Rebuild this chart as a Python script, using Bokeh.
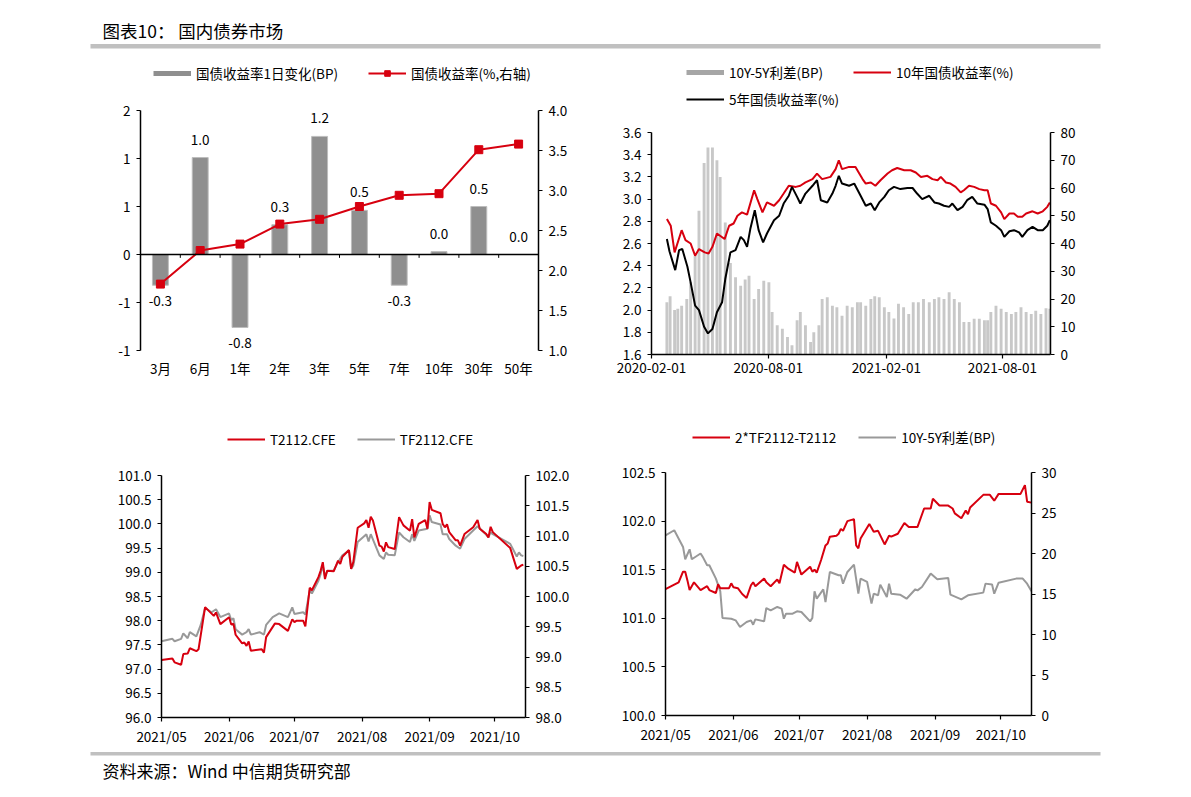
import pandas as pd
from bokeh.plotting import figure
from bokeh.models import (Range1d, LinearAxis, FactorRange, FixedTicker, Legend, LegendItem,
                          ColumnDataSource, LabelSet, Span, DatetimeTickFormatter,
                          PrintfTickFormatter, BoxAnnotation)
from bokeh.layouts import column, row
from bokeh.embed import file_html
from bokeh.resources import INLINE
from bokeh.core.properties import value

FONT = "Noto Sans CJK SC"
RED = "#D7000F"
GRAY_LINE = "#999999"
BAR1 = "#8F8F8F"
BAR2 = "#C8C8C8"
BAR2_KEY = "#A6A6A6"
NAN = float("nan")

# ---------------- Chart 1: yield curve ----------------
tenors = ["3月", "6月", "1年", "2年", "3年", "5年", "7年", "10年", "30年", "50年"]
yield_change_bp = [-0.32, 1.01, -0.76, 0.31, 1.23, 0.46, -0.32, 0.03, 0.50, 0.0]
yield_level = [1.83, 2.25, 2.33, 2.58, 2.64, 2.80, 2.94, 2.96, 3.51, 3.58]

# ---------------- Chart 2: 10Y / 5Y yields and spread ----------------
y10_dates = ["2020-02-25", "2020-03-02", "2020-03-08", "2020-03-19", "2020-03-25", "2020-04-02",
             "2020-04-09", "2020-04-15", "2020-04-24", "2020-04-30", "2020-05-06", "2020-05-13",
             "2020-05-25", "2020-06-01", "2020-06-08", "2020-06-14", "2020-06-21", "2020-06-29",
             "2020-07-10", "2020-07-15", "2020-07-23", "2020-07-30", "2020-08-10", "2020-08-18",
             "2020-08-25", "2020-09-02", "2020-09-13", "2020-09-20", "2020-09-28", "2020-10-09",
             "2020-10-16", "2020-10-24", "2020-11-06", "2020-11-14", "2020-11-19", "2020-11-24",
             "2020-12-05", "2020-12-15", "2020-12-20", "2020-12-26", "2020-12-31", "2021-01-08",
             "2021-01-15", "2021-01-23", "2021-02-03", "2021-02-10", "2021-02-18", "2021-03-01",
             "2021-03-11", "2021-03-19", "2021-03-27", "2021-04-06", "2021-04-14", "2021-04-22",
             "2021-04-27", "2021-05-05", "2021-05-12", "2021-05-20", "2021-05-28", "2021-06-02",
             "2021-06-10", "2021-06-18", "2021-06-26", "2021-07-04", "2021-07-09", "2021-07-14",
             "2021-07-22", "2021-07-30", "2021-08-04", "2021-08-12", "2021-08-19", "2021-08-25",
             "2021-09-01", "2021-09-07", "2021-09-17", "2021-09-25", "2021-10-03", "2021-10-10",
             "2021-10-14"]
y10_rate = [2.82, 2.76, 2.52, 2.72, 2.63, 2.60, 2.49, 2.55, 2.52, 2.51, 2.57, 2.69,
            2.64, 2.76, 2.78, 2.85, 2.88, 2.86, 3.08, 3.00, 2.88, 2.97, 2.94, 2.99,
            3.05, 3.12, 3.11, 3.12, 3.15, 3.18, 3.23, 3.18, 3.20, 3.27, 3.35, 3.27,
            3.29, 3.29, 3.24, 3.18, 3.14, 3.15, 3.12, 3.17, 3.23, 3.26, 3.28, 3.26,
            3.26, 3.24, 3.20, 3.21, 3.18, 3.17, 3.20, 3.15, 3.14, 3.11, 3.06, 3.08,
            3.12, 3.11, 3.09, 3.08, 3.08, 2.96, 2.94, 2.88, 2.82, 2.87, 2.87, 2.84,
            2.84, 2.87, 2.89, 2.87, 2.89, 2.93, 2.97]

y5_dates = ["2020-02-25", "2020-02-29", "2020-03-09", "2020-03-15", "2020-03-20", "2020-03-28",
            "2020-04-02", "2020-04-09", "2020-04-15", "2020-04-23", "2020-04-29", "2020-05-06",
            "2020-05-13", "2020-05-21", "2020-05-26", "2020-06-03", "2020-06-11", "2020-06-19",
            "2020-06-24", "2020-06-29", "2020-07-04", "2020-07-11", "2020-07-17", "2020-07-24",
            "2020-07-30", "2020-08-10", "2020-08-18", "2020-08-25", "2020-09-02", "2020-09-07",
            "2020-09-15", "2020-09-20", "2020-09-28", "2020-10-09", "2020-10-16", "2020-10-22",
            "2020-11-01", "2020-11-09", "2020-11-14", "2020-11-19", "2020-11-24", "2020-12-05",
            "2020-12-13", "2020-12-23", "2020-12-31", "2021-01-08", "2021-01-14", "2021-01-21",
            "2021-01-29", "2021-02-05", "2021-02-13", "2021-02-23", "2021-03-06", "2021-03-14",
            "2021-03-21", "2021-03-29", "2021-04-09", "2021-04-17", "2021-04-24", "2021-05-02",
            "2021-05-10", "2021-05-15", "2021-05-23", "2021-05-31", "2021-06-07", "2021-06-15",
            "2021-06-23", "2021-07-04", "2021-07-09", "2021-07-14", "2021-07-22", "2021-07-30",
            "2021-08-04", "2021-08-12", "2021-08-19", "2021-08-27", "2021-09-01", "2021-09-09",
            "2021-09-17", "2021-09-25", "2021-10-03", "2021-10-10", "2021-10-14"]
y5_rate = [2.64, 2.53, 2.36, 2.54, 2.55, 2.39, 2.25, 2.04, 2.00, 1.85, 1.79, 1.83,
           1.98, 2.07, 2.28, 2.52, 2.54, 2.66, 2.63, 2.57, 2.73, 2.90, 2.72, 2.61,
           2.69, 2.81, 2.85, 2.96, 3.03, 3.11, 3.02, 2.96, 3.05, 3.12, 3.17, 2.99,
           2.97, 3.05, 3.12, 3.21, 3.14, 3.12, 3.14, 3.03, 2.94, 2.96, 2.90, 2.97,
           3.02, 3.08, 3.11, 3.09, 3.10, 3.10, 3.05, 3.00, 3.03, 2.97, 2.96, 2.94,
           2.93, 2.96, 2.90, 2.93, 2.99, 3.02, 2.96, 2.95, 2.91, 2.79, 2.76, 2.72,
           2.66, 2.71, 2.72, 2.70, 2.66, 2.72, 2.75, 2.72, 2.72, 2.76, 2.81]

spread_dates = ["2020-02-25", "2020-03-01", "2020-03-08", "2020-03-13", "2020-03-19", "2020-03-27",
                "2020-04-02", "2020-04-09", "2020-04-15", "2020-04-23", "2020-04-29", "2020-05-06",
                "2020-05-13", "2020-05-18", "2020-05-26", "2020-06-03", "2020-06-11", "2020-06-19",
                "2020-06-26", "2020-07-02", "2020-07-10", "2020-07-17", "2020-07-25", "2020-08-02",
                "2020-08-07", "2020-08-15", "2020-08-23", "2020-08-31", "2020-09-07", "2020-09-15",
                "2020-09-20", "2020-09-28", "2020-10-06", "2020-10-11", "2020-10-19", "2020-10-24",
                "2020-11-01", "2020-11-09", "2020-11-16", "2020-11-24", "2020-12-02", "2020-12-10",
                "2020-12-18", "2020-12-23", "2020-12-31", "2021-01-08", "2021-01-14", "2021-01-21",
                "2021-01-29", "2021-02-05", "2021-02-13", "2021-02-20", "2021-02-28", "2021-03-08",
                "2021-03-15", "2021-03-23", "2021-03-31", "2021-04-09", "2021-04-17", "2021-04-24",
                "2021-05-02", "2021-05-10", "2021-05-18", "2021-05-26", "2021-06-02", "2021-06-10",
                "2021-06-18", "2021-06-26", "2021-07-04", "2021-07-09", "2021-07-14", "2021-07-22",
                "2021-07-30", "2021-08-07", "2021-08-15", "2021-08-22", "2021-08-30", "2021-09-07",
                "2021-09-15", "2021-09-22", "2021-09-30", "2021-10-08", "2021-10-14"]
spread_bp = [18.8, 21.0, 16.0, 16.5, 17.6, 20.0, 26.0, 35.6, 51.8, 69.0, 74.6, 74.6,
             70.0, 64.0, 47.6, 33.0, 27.8, 24.8, 27.0, 28.4, 20.0, 23.6, 26.6, 26.0,
             15.3, 10.5, 9.3, 6.3, 3.3, 12.3, 15.3, 10.5, 4.5, 8.0, 10.5, 20.0,
             20.6, 17.6, 17.0, 14.0, 17.6, 17.0, 18.8, 18.8, 17.6, 20.0, 21.0, 20.6,
             17.0, 15.3, 13.0, 18.3, 17.0, 14.6, 18.8, 18.8, 20.0, 18.8, 20.0, 20.6,
             20.0, 22.4, 20.0, 18.8, 11.7, 11.7, 12.9, 12.9, 12.3, 12.3, 15.3, 17.6,
             16.5, 15.3, 14.6, 15.3, 17.0, 15.3, 14.6, 15.8, 14.6, 16.7, 16.5]

# ---------------- Chart 3: T2112 / TF2112 ----------------
t_dates = ["2021-05-01", "2021-05-06", "2021-05-07", "2021-05-10", "2021-05-11", "2021-05-13",
           "2021-05-14", "2021-05-17", "2021-05-18", "2021-05-21", "2021-05-25", "2021-05-26",
           "2021-05-28", "2021-06-01", "2021-06-02", "2021-06-03", "2021-06-04", "2021-06-07",
           "2021-06-08", "2021-06-09", "2021-06-10", "2021-06-11", "2021-06-16", "2021-06-17",
           "2021-06-18", "2021-06-22", "2021-06-24", "2021-06-28", "2021-06-30", "2021-07-01",
           "2021-07-02", "2021-07-05", "2021-07-06", "2021-07-08", "2021-07-09", "2021-07-12",
           "2021-07-13", "2021-07-14", "2021-07-15", "2021-07-16", "2021-07-19", "2021-07-21",
           "2021-07-22", "2021-07-23", "2021-07-26", "2021-07-27", "2021-07-28", "2021-07-30",
           "2021-08-02", "2021-08-03", "2021-08-04", "2021-08-05", "2021-08-06", "2021-08-09",
           "2021-08-10", "2021-08-11", "2021-08-12", "2021-08-13", "2021-08-16", "2021-08-18",
           "2021-08-20", "2021-08-23", "2021-08-24", "2021-08-25", "2021-08-26", "2021-08-27",
           "2021-08-30", "2021-08-31", "2021-09-01", "2021-09-02", "2021-09-06", "2021-09-07",
           "2021-09-08", "2021-09-09", "2021-09-10", "2021-09-13", "2021-09-14", "2021-09-15",
           "2021-09-17", "2021-09-21", "2021-09-23", "2021-09-24", "2021-09-27", "2021-09-28",
           "2021-09-29", "2021-09-30", "2021-10-08", "2021-10-11", "2021-10-13", "2021-10-14"]
t_price = [97.19, 97.22, 97.14, 97.09, 97.31, 97.32, 97.43, 97.37, 97.41, 98.28, 98.10, 98.17,
           97.93, 98.07, 97.92, 97.94, 97.71, 97.53, 97.55, 97.48, 97.57, 97.38, 97.41, 97.34,
           97.66, 97.94, 97.93, 97.79, 98.03, 97.97, 98.00, 98.00, 97.88, 98.68, 98.63, 98.90,
           99.03, 99.21, 98.86, 99.03, 99.02, 99.24, 99.17, 99.32, 99.46, 99.07, 99.21, 99.92,
           100.01, 100.08, 99.92, 100.15, 100.07, 99.55, 99.53, 99.43, 99.62, 99.52, 99.48, 100.14,
           99.97, 99.86, 100.10, 99.72, 99.86, 100.00, 100.08, 99.90, 100.45, 100.29, 100.22, 100.00,
           99.93, 99.99, 99.83, 99.66, 99.66, 99.55, 99.79, 99.93, 100.08, 99.90, 99.79, 99.72,
           99.94, 99.83, 99.50, 99.07, 99.14, 99.16]

tf_dates = ["2021-05-01", "2021-05-06", "2021-05-07", "2021-05-10", "2021-05-11", "2021-05-13",
            "2021-05-14", "2021-05-17", "2021-05-19", "2021-05-21", "2021-05-24", "2021-05-26",
            "2021-05-28", "2021-06-01", "2021-06-02", "2021-06-03", "2021-06-04", "2021-06-07",
            "2021-06-09", "2021-06-10", "2021-06-11", "2021-06-15", "2021-06-17", "2021-06-18",
            "2021-06-21", "2021-06-24", "2021-06-28", "2021-06-30", "2021-07-01", "2021-07-05",
            "2021-07-06", "2021-07-08", "2021-07-09", "2021-07-12", "2021-07-13", "2021-07-14",
            "2021-07-15", "2021-07-16", "2021-07-19", "2021-07-21", "2021-07-23", "2021-07-26",
            "2021-07-27", "2021-07-28", "2021-07-30", "2021-08-03", "2021-08-04", "2021-08-05",
            "2021-08-09", "2021-08-11", "2021-08-12", "2021-08-13", "2021-08-16", "2021-08-18",
            "2021-08-20", "2021-08-23", "2021-08-24", "2021-08-25", "2021-08-27", "2021-08-31",
            "2021-09-01", "2021-09-02", "2021-09-06", "2021-09-07", "2021-09-09", "2021-09-10",
            "2021-09-13", "2021-09-15", "2021-09-17", "2021-09-23", "2021-09-27", "2021-09-28",
            "2021-09-29", "2021-09-30", "2021-10-08", "2021-10-11", "2021-10-12", "2021-10-13",
            "2021-10-14"]
tf_price = [99.26, 99.30, 99.26, 99.30, 99.39, 99.31, 99.41, 99.34, 99.53, 99.81, 99.74, 99.79,
            99.66, 99.72, 99.61, 99.64, 99.46, 99.37, 99.41, 99.46, 99.37, 99.41, 99.37, 99.53,
            99.66, 99.72, 99.66, 99.82, 99.71, 99.74, 99.70, 100.10, 100.05, 100.26, 100.37, 100.51,
            100.33, 100.42, 100.43, 100.57, 100.68, 100.76, 100.46, 100.51, 100.90, 101.03, 100.91, 101.03,
            100.68, 100.62, 100.73, 100.69, 100.68, 101.06, 100.98, 100.90, 101.03, 100.92, 101.09, 101.12,
            101.34, 101.23, 101.19, 101.03, 101.03, 100.95, 100.84, 100.79, 100.95, 101.16, 101.02, 100.98,
            101.06, 101.03, 100.87, 100.66, 100.73, 100.68, 100.67]

# ---------------- Chart 4: 2*TF2112-T2112 and 10Y-5Y spread ----------------
basis_dates = ["2021-05-01", "2021-05-07", "2021-05-09", "2021-05-10", "2021-05-11", "2021-05-12",
               "2021-05-14", "2021-05-17", "2021-05-20", "2021-05-21", "2021-05-24", "2021-05-25",
               "2021-05-26", "2021-05-30", "2021-05-31", "2021-06-01", "2021-06-03", "2021-06-05",
               "2021-06-07", "2021-06-09", "2021-06-10", "2021-06-11", "2021-06-15", "2021-06-16",
               "2021-06-18", "2021-06-21", "2021-06-22", "2021-06-24", "2021-06-26", "2021-06-29",
               "2021-06-30", "2021-07-02", "2021-07-06", "2021-07-07", "2021-07-08", "2021-07-09",
               "2021-07-11", "2021-07-13", "2021-07-14", "2021-07-15", "2021-07-18", "2021-07-19",
               "2021-07-20", "2021-07-21", "2021-07-23", "2021-07-26", "2021-07-27", "2021-07-28",
               "2021-07-29", "2021-08-02", "2021-08-04", "2021-08-06", "2021-08-09", "2021-08-11",
               "2021-08-12", "2021-08-15", "2021-08-18", "2021-08-20", "2021-08-24", "2021-08-27",
               "2021-08-30", "2021-08-31", "2021-09-03", "2021-09-07", "2021-09-09", "2021-09-10",
               "2021-09-13", "2021-09-15", "2021-09-16", "2021-09-17", "2021-09-23", "2021-09-26",
               "2021-09-28", "2021-09-30", "2021-10-10", "2021-10-12", "2021-10-13", "2021-10-15"]
basis_val = [101.30, 101.37, 101.48, 101.48, 101.39, 101.29, 101.37, 101.29, 101.33, 101.29, 101.26, 101.35,
             101.31, 101.31, 101.36, 101.32, 101.31, 101.25, 101.21, 101.34, 101.37, 101.33, 101.41, 101.37,
             101.33, 101.40, 101.36, 101.55, 101.51, 101.47, 101.58, 101.45, 101.53, 101.48, 101.50, 101.47,
             101.60, 101.75, 101.77, 101.84, 101.85, 101.87, 101.92, 101.90, 102.00, 102.02, 101.75, 101.72,
             101.82, 101.97, 101.89, 101.90, 101.76, 101.85, 101.84, 101.87, 101.98, 101.94, 101.94, 102.13,
             102.13, 102.23, 102.16, 102.16, 102.13, 102.08, 102.03, 102.11, 102.07, 102.14, 102.27, 102.27,
             102.21, 102.28, 102.28, 102.37, 102.20, 102.19]

bp_dates = ["2021-05-01", "2021-05-05", "2021-05-09", "2021-05-10", "2021-05-12", "2021-05-13",
            "2021-05-17", "2021-05-18", "2021-05-20", "2021-05-21", "2021-05-24", "2021-05-26",
            "2021-05-27", "2021-05-31", "2021-06-02", "2021-06-04", "2021-06-07", "2021-06-09",
            "2021-06-10", "2021-06-11", "2021-06-15", "2021-06-16", "2021-06-18", "2021-06-21",
            "2021-06-23", "2021-06-24", "2021-06-25", "2021-06-28", "2021-06-30", "2021-07-02",
            "2021-07-06", "2021-07-07", "2021-07-08", "2021-07-09", "2021-07-12", "2021-07-13",
            "2021-07-15", "2021-07-19", "2021-07-20", "2021-07-21", "2021-07-23", "2021-07-26",
            "2021-07-28", "2021-07-29", "2021-08-01", "2021-08-03", "2021-08-04", "2021-08-06",
            "2021-08-07", "2021-08-10", "2021-08-11", "2021-08-12", "2021-08-16", "2021-08-19",
            "2021-08-23", "2021-08-24", "2021-08-26", "2021-08-30", "2021-09-02", "2021-09-07",
            "2021-09-08", "2021-09-13", "2021-09-16", "2021-09-23", "2021-09-24", "2021-09-27",
            "2021-09-28", "2021-09-30", "2021-10-08", "2021-10-11", "2021-10-13", "2021-10-15"]
bp_val = [22.25, 22.87, 20.81, 19.29, 20.52, 19.29, 20.00, 19.58, 18.55, 18.55, 16.90, 15.33,
          12.04, 11.95, 11.75, 10.92, 11.54, 11.75, 11.21, 11.87, 11.62, 13.27, 12.98, 13.40,
          13.19, 11.95, 12.57, 12.57, 12.86, 12.78, 11.62, 12.04, 15.33, 14.42, 15.58, 14.01,
          17.72, 17.31, 17.31, 16.28, 17.72, 18.63, 15.04, 16.90, 16.49, 13.81, 15.04, 14.84,
          16.16, 14.63, 16.28, 15.04, 14.92, 14.42, 15.58, 15.45, 15.87, 17.52, 16.81, 16.98,
          14.92, 14.34, 14.84, 15.17, 16.28, 16.16, 15.04, 16.40, 16.90, 16.90, 16.28, 15.33]

# ---------------- Text ----------------
page_title = "图表10： 国内债券市场"
source_note = "资料来源：Wind 中信期货研究部"


def style_axis(ax, bounds, tick_out=4, standoff=6, line=True):
    ax.axis_line_color = "black" if line else None
    ax.axis_line_width = 1.5
    ax.major_tick_line_color = "black" if line else None
    ax.major_tick_line_width = 1.2
    ax.major_tick_in = 0
    ax.major_tick_out = tick_out
    ax.minor_tick_line_color = None
    ax.major_label_text_font = FONT
    ax.major_label_text_font_size = "13.5px"
    ax.major_label_text_color = "black"
    ax.major_label_standoff = standoff
    if bounds is not None:
        ax.bounds = bounds


def make_fig(w, h, xr, yr, left, right, top, bottom, xtype="auto"):
    p = figure(width=w, height=h, x_range=xr, y_range=yr, x_axis_type=xtype,
               toolbar_location=None, output_backend="svg",
               min_border_left=left, min_border_right=right,
               min_border_top=top, min_border_bottom=bottom)
    p.grid.visible = False
    p.outline_line_color = None
    return p


def blank_fig(w, h):
    p = figure(width=w, height=h, x_range=Range1d(0, w), y_range=Range1d(0, h),
               toolbar_location=None, output_backend="svg", min_border=0)
    p.axis.visible = False
    p.grid.visible = False
    p.outline_line_color = None
    return p


def make_legend(items, loc, spacing, **kw):
    return Legend(items=items, location=loc, orientation="horizontal",
                  background_fill_alpha=0, border_line_color=None,
                  padding=0, margin=0, spacing=spacing, label_standoff=5,
                  glyph_width=38, glyph_height=14, label_height=14,
                  label_text_font=FONT, label_text_font_size="13.5px",
                  label_text_color="black", **kw)


def ms(d):
    return pd.Timestamp(d).value / 1e6


def extended(lo, hi, plot_px, extra_px):
    # y-range whose [lo, hi] part fills plot_px pixels, leaving extra_px above for the legend
    return Range1d(lo, hi + (hi - lo) * extra_px / plot_px)


# ================= Chart 1 =================
p1 = make_fig(596, 335, FactorRange(factors=tenors, range_padding=0), extended(-1, 1.5, 240, 48),
              140, 58, 7, 40)
p1.extra_y_ranges = {"rate": extended(1.0, 4.0, 240, 48)}

bar_src = ColumnDataSource(dict(
    tenor=tenors, chg=yield_change_bp,
    lbl=[f"{v:.1f}" for v in yield_change_bp],
    off=[18 if v >= 0 else -16 for v in yield_change_bp]))
p1.vbar(x="tenor", top="chg", width=0.4, source=bar_src,
        fill_color=BAR1, line_color="#BDBDBD", line_width=1)
p1.add_layout(Span(location=0, dimension="width", line_color="black", line_width=1.5))
bounds = [(c, -0.5) for c in tenors[1:]]
p1.segment(x0=bounds, y0=[0] * len(bounds), x1=bounds, y1=[-0.035] * len(bounds),
           line_color="black", line_width=1)
p1.add_layout(LabelSet(x="tenor", y="chg", text="lbl", y_offset="off", source=bar_src,
                       text_align="center", text_baseline="middle",
                       text_font=value(FONT), text_font_size="13.5px", text_color="black"))
r1_line = p1.line(tenors, yield_level, y_range_name="rate", line_color=RED, line_width=2)
r1_pts = p1.scatter(tenors, yield_level, y_range_name="rate", marker="square", size=8,
                    fill_color=RED, line_color=RED)
k1 = p1.line(x=tenors[:1], y=[NAN], line_color=BAR1, line_width=5)

ax = p1.xaxis[0]
style_axis(ax, None, tick_out=0, standoff=7, line=False)
ay = p1.yaxis[0]
style_axis(ay, (-1, 1.5))
ay.ticker = FixedTicker(ticks=[-1, -0.5, 0, 0.5, 1, 1.5])
ay.major_label_overrides = {1.5: "2", 1: "1", 0.5: "1", 0: "0", -0.5: "-1", -1: "-1"}
ar = LinearAxis(y_range_name="rate", ticker=FixedTicker(ticks=[1.0, 1.5, 2.0, 2.5, 3.0, 3.5, 4.0]),
                formatter=PrintfTickFormatter(format="%.1f"))
style_axis(ar, (1.0, 4.0))
p1.add_layout(ar, "right")
p1.add_layout(make_legend([LegendItem(label="国债收益率1日变化(BP)", renderers=[k1]),
                           LegendItem(label="国债收益率(%,右轴)", renderers=[r1_line, r1_pts])],
                          (13, 267), 30))

# ================= Chart 2 =================
p2 = make_fig(595, 335, Range1d(pd.Timestamp("2020-02-01"), pd.Timestamp("2021-10-15")),
              extended(1.6, 3.6, 222, 72), 55, 141, 5, 36, xtype="datetime")
p2.extra_y_ranges = {"bp": extended(0, 80, 222, 72)}
p2.vbar(x=pd.to_datetime(spread_dates), top=spread_bp, width=4.5 * 86400000, y_range_name="bp",
        fill_color=BAR2, line_color=None)
r2_10 = p2.line(pd.to_datetime(y10_dates), y10_rate, line_color=RED, line_width=2)
r2_5 = p2.line(pd.to_datetime(y5_dates), y5_rate, line_color="black", line_width=2)
k2 = p2.line(x=pd.to_datetime(spread_dates[:1]), y=[NAN], line_color=BAR2_KEY, line_width=5)

date_fmt = dict(microseconds="%Y-%m-%d", milliseconds="%Y-%m-%d", seconds="%Y-%m-%d",
                minsec="%Y-%m-%d", minutes="%Y-%m-%d", hourmin="%Y-%m-%d", hours="%Y-%m-%d",
                days="%Y-%m-%d", months="%Y-%m-%d", years="%Y-%m-%d")
ax = p2.xaxis[0]
style_axis(ax, None, tick_out=4, standoff=4)
ax.ticker = FixedTicker(ticks=[ms(d) for d in ["2020-02-01", "2020-08-01", "2021-02-01", "2021-08-01"]])
ax.formatter = DatetimeTickFormatter(**date_fmt)
ay = p2.yaxis[0]
style_axis(ay, (1.6, 3.6))
ay.ticker = FixedTicker(ticks=[1.6, 1.8, 2.0, 2.2, 2.4, 2.6, 2.8, 3.0, 3.2, 3.4, 3.6])
ay.formatter = PrintfTickFormatter(format="%.1f")
ar = LinearAxis(y_range_name="bp", ticker=FixedTicker(ticks=[0, 10, 20, 30, 40, 50, 60, 70, 80]))
style_axis(ar, (0, 80))
p2.add_layout(ar, "right")
p2.add_layout(make_legend([LegendItem(label="10Y-5Y利差(BP)", renderers=[k2]),
                           LegendItem(label="10年国债收益率(%)", renderers=[r2_10]),
                           LegendItem(label="5年国债收益率(%)", renderers=[r2_5])],
                          (35, 245), 7, nrows=2, label_width=117))

# ================= Chart 3 =================
month_ticks = [ms(d) for d in ["2021-05-01", "2021-06-01", "2021-07-01", "2021-08-01",
                               "2021-09-01", "2021-10-01"]]
month_fmt = {k: "%Y/%m" for k in date_fmt}

p3 = make_fig(596, 360, Range1d(pd.Timestamp("2021-05-01"), pd.Timestamp("2021-10-15")),
              extended(96.0, 101.0, 242, 50), 161, 71, 35, 33, xtype="datetime")
p3.extra_y_ranges = {"tf": extended(98.0, 102.0, 242, 50)}
r3_tf = p3.line(pd.to_datetime(tf_dates), tf_price, y_range_name="tf", line_color=GRAY_LINE, line_width=2)
r3_t = p3.line(pd.to_datetime(t_dates), t_price, line_color=RED, line_width=2)

ax = p3.xaxis[0]
style_axis(ax, None, tick_out=4, standoff=4)
ax.ticker = FixedTicker(ticks=month_ticks)
ax.formatter = DatetimeTickFormatter(**month_fmt)
ay = p3.yaxis[0]
style_axis(ay, (96.0, 101.0))
ay.ticker = FixedTicker(ticks=[96.0, 96.5, 97.0, 97.5, 98.0, 98.5, 99.0, 99.5, 100.0, 100.5, 101.0])
ay.formatter = PrintfTickFormatter(format="%.1f")
ar = LinearAxis(y_range_name="tf",
                ticker=FixedTicker(ticks=[98.0, 98.5, 99.0, 99.5, 100.0, 100.5, 101.0, 101.5, 102.0]),
                formatter=PrintfTickFormatter(format="%.1f"))
style_axis(ar, (98.0, 102.0))
p3.add_layout(ar, "right")
p3.add_layout(make_legend([LegendItem(label="T2112.CFE", renderers=[r3_t]),
                           LegendItem(label="TF2112.CFE", renderers=[r3_tf])],
                          (66, 268), 21))

# ================= Chart 4 =================
p4 = make_fig(595, 360, Range1d(pd.Timestamp("2021-05-01"), pd.Timestamp("2021-10-15")),
              extended(100.0, 102.5, 243, 50), 69, 160, 32, 35, xtype="datetime")
p4.extra_y_ranges = {"bp": extended(0, 30, 243, 50)}
r4_bp = p4.line(pd.to_datetime(bp_dates), bp_val, y_range_name="bp", line_color=GRAY_LINE, line_width=2)
r4_b = p4.line(pd.to_datetime(basis_dates), basis_val, line_color=RED, line_width=2)

ax = p4.xaxis[0]
style_axis(ax, None, tick_out=4, standoff=4)
ax.ticker = FixedTicker(ticks=month_ticks)
ax.formatter = DatetimeTickFormatter(**month_fmt)
ay = p4.yaxis[0]
style_axis(ay, (100.0, 102.5))
ay.ticker = FixedTicker(ticks=[100.0, 100.5, 101.0, 101.5, 102.0, 102.5])
ay.formatter = PrintfTickFormatter(format="%.1f")
ar = LinearAxis(y_range_name="bp", ticker=FixedTicker(ticks=[0, 5, 10, 15, 20, 25, 30]))
style_axis(ar, (0, 30))
p4.add_layout(ar, "right")
p4.add_layout(make_legend([LegendItem(label="2*TF2112-T2112", renderers=[r4_b]),
                           LegendItem(label="10Y-5Y利差(BP)", renderers=[r4_bp])],
                          (27, 268), 22))

# ================= Header / footer =================
hdr = blank_fig(1191, 55)
hdr.text(x=[102], y=[25], text=[page_title], text_font=value(FONT), text_font_size="17.5px",
         text_baseline="middle", text_color="black")
hdr.add_layout(BoxAnnotation(left=90, right=1100, bottom=7, top=11.5,
                             fill_color="#C0C0C0", fill_alpha=1, line_color=None))

ftr = blank_fig(1191, 47)
ftr.text(x=[102], y=[27], text=[source_note], text_font=value(FONT), text_font_size="17px",
         text_baseline="middle", text_color="black")
ftr.add_layout(BoxAnnotation(left=90, right=1100, bottom=42, top=45.5,
                             fill_color="#C0C0C0", fill_alpha=1, line_color=None))

layout = column(hdr,
                row(column(p1), column(p2)),
                row(column(p3), column(p4)),
                ftr)
open("out.html", "w").write(file_html(layout, INLINE))
